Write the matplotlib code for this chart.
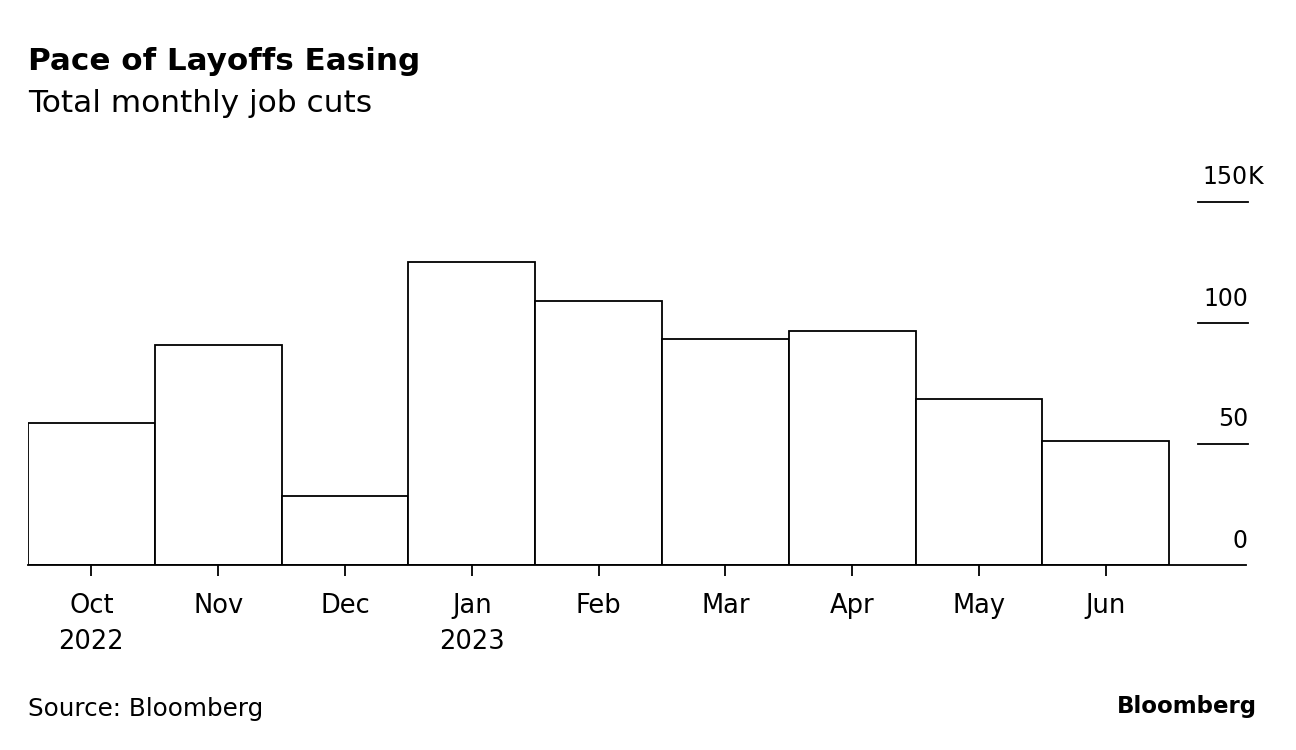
import matplotlib
matplotlib.use("Agg")
import matplotlib.pyplot as plt
from matplotlib import transforms

plt.rcParams['font.family'] = ['DejaVu Sans']

months = ["Oct", "Nov", "Dec", "Jan", "Feb", "Mar", "Apr", "May", "Jun"]
years = ["2022", "", "", "2023", "", "", "", "", ""]
job_cuts_k = [58.7, 90.9, 28.5, 125.2, 109.1, 93.4, 96.7, 68.6, 51.2]
y_ticks = [0, 50, 100, 150]
y_tick_labels = ["0", "50", "100", "150"]
y_unit = "K"

W, H = 1296, 750
BAR_PX = 126.8
fig = plt.figure(figsize=(W / 100, H / 100), dpi=100)
ax = fig.add_axes([28 / W, (H - 565) / H, (1248 - 28) / W, (565 - 202) / H])

x = list(range(len(months)))
ax.bar(x, job_cuts_k, width=1.0, align='center', facecolor='white',
       edgecolor='black', linewidth=1.3, zorder=2)

ax.set_xlim(-0.5, -0.5 + (1248 - 28) / BAR_PX)
ax.set_ylim(0, 150)

for s in ['top', 'right', 'left']:
    ax.spines[s].set_visible(False)
ax.spines['bottom'].set_linewidth(1.3)
ax.spines['bottom'].set_bounds(-0.5, -0.5 + (1246 - 28) / BAR_PX)

ax.set_xticks(x)
ax.set_xticklabels([m + ("\n" + y if y else "") for m, y in zip(months, years)],
                   fontsize=18.5, linespacing=1.5, va='top')
ax.tick_params(axis='x', length=8, width=1.3, color='black', pad=12)
ax.set_yticks([])

# right-side y labels with short lines
trans = transforms.blended_transform_factory(ax.transAxes, ax.transData)
x0 = (1198 - 28) / (1248 - 28)
for i, (v, lab) in enumerate(zip(y_ticks, y_tick_labels)):
    if v > 0:
        ax.plot([x0, 1.0], [v, v], transform=trans, color='black', lw=1.3,
                clip_on=False, zorder=3)
    ax.annotate(lab, xy=(1.0, v), xycoords=trans, xytext=(0, 9),
                textcoords='offset points', ha='right', va='bottom',
                fontsize=17, annotation_clip=False)
    if i == len(y_ticks) - 1:
        ax.annotate(y_unit, xy=(1.0, v), xycoords=trans, xytext=(0, 9),
                    textcoords='offset points', ha='left', va='bottom',
                    fontsize=17, annotation_clip=False)

fig.text(28 / W, 1 - 62 / H, "Pace of Layoffs Easing", fontsize=22.3,
         fontweight='bold', va='center', ha='left')
fig.text(28 / W, 1 - 104 / H, "Total monthly job cuts", fontsize=22.5,
         va='center', ha='left')
fig.text(28 / W, 1 - 709 / H, "Source: Bloomberg", fontsize=17.7,
         va='center', ha='left')
fig.text(1257 / W, 1 - 706 / H, "Bloomberg", fontsize=16.5, fontweight='bold',
         va='center', ha='right')

fig.savefig("out.png", dpi=100, facecolor='white')
